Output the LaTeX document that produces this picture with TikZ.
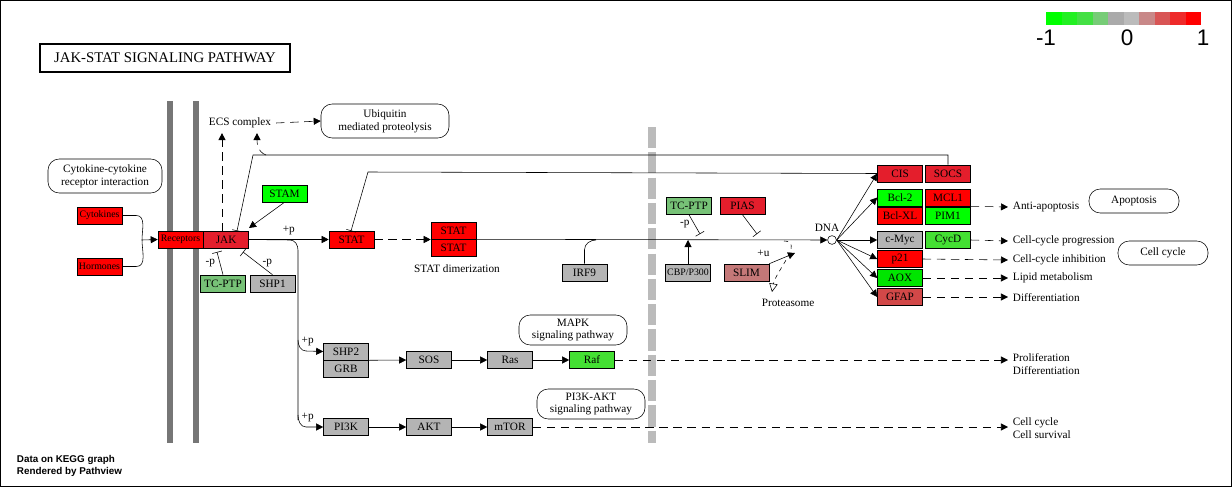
\documentclass[tikz,border=0pt]{standalone}
\usepackage{fontspec}
\setmainfont{Liberation Serif}
\newfontfamily\sansb{Liberation Sans}
\usetikzlibrary{arrows.meta,positioning,calc}
\definecolor{kred}{HTML}{FF0000}
\definecolor{kredb}{HTML}{E41E2C}
\definecolor{kgreen}{HTML}{00FF00}
\definecolor{kgreenb}{HTML}{44E033}
\definecolor{kpale}{HTML}{77C277}
\definecolor{kgray}{HTML}{B4B4B4}
\definecolor{kslim}{HTML}{C47878}
\definecolor{kgfap}{HTML}{D24848}
\definecolor{kbar}{HTML}{767676}
\begin{document}
\begin{tikzpicture}[x=0.025cm,y=-0.025cm,
     font=\fontsize{8}{9}\selectfont,
     gene/.style={rectangle,draw,inner sep=0pt,minimum width=1.125cm,minimum height=0.425cm},
     tight/.style={font=\fontsize{7}{8}\selectfont},
     path/.style={rectangle,draw,rounded corners=8pt,align=center,inner sep=2pt},
     act/.style={-{Triangle[length=5pt,width=5pt]}},
     inh/.style={-{Bar[width=7pt]}},
     ind/.style={dashed,dash pattern=on 6pt off 4pt,-{Triangle[length=5pt,width=5pt]}}]

  \useasboundingbox (0,0) rectangle (1232,487);
  \draw (0.5,0.5) rectangle (1231.5,486.5);

  % membranes
  \fill[kbar] (167,101) rectangle (173,443);
  \fill[kbar] (193,101) rectangle (199,443);
  \draw[kgray!90,line width=6pt,dash pattern=on 15pt off 3pt] (652,127) -- (652,443);

  % legend
  \foreach \c [count=\i] in {00FF00,22F022,44E044,77CC77,AAAAAA,BBBBBB,C88888,D85555,EE2A2A,FF0000}{
    \definecolor{lgd}{HTML}{\c}
    \fill[lgd] ({1046+(\i-1)*15.5},12) rectangle ({1046+\i*15.5},25);}
  \node[font=\sansb\fontsize{16}{18}\selectfont] (lminus) at (1046,38) {-1};
  \node[font=\sansb\fontsize{16}{18}\selectfont] (lzero) at (1127,38) {0};
  \node[font=\sansb\fontsize{16}{18}\selectfont] (lone) at (1203,38) {1};

  \node[draw,thick,inner sep=0pt,minimum width=6.25cm,minimum height=0.7cm,font=\fontsize{10.5}{12}\selectfont] (title) at (165,58) {JAK-STAT SIGNALING PATHWAY};
  \node[font=\sansb\bfseries\fontsize{7}{8.5}\selectfont,align=left,anchor=north west] (credit) at (12,450) {Data on KEGG graph\\Rendered by Pathview};

  % genes
  \node[gene,tight,fill=kred] (cytokines) at (99.5,215.5) {Cytokines};
  \node[gene,tight,fill=kred] (hormones) at (99.5,266.5) {Hormones};
  \node[gene,tight,fill=kred] (receptors) at (180.5,239.5) {Receptors};
  \node[gene,fill=kredb] (jak) [right=0pt of receptors] {JAK};
  \node[gene,fill=kgreen] (stam) at (284.5,193.5) {STAM};
  \node[gene,fill=kpale] (tcptpa) at (223,283.5) {TC-PTP};
  \node[gene,fill=kgray] (shp1) at (272.5,283.5) {SHP1};
  \node[gene,fill=kred] (stat) at (351.5,239.5) {STAT};
  \node[gene,fill=kred] (stata) at (453.5,230.5) {STAT};
  \node[gene,fill=kred] (statb) [below=0pt of stata] {STAT};
  \node (dimer) at (457,269) {STAT dimerization};
  \node[gene,fill=kgray] (irf9) at (584.5,272.5) {IRF9};
  \node[gene,fill=kpale] (tcptpb) at (689,206) {TC-PTP};
  \node[gene,fill=kredb] (pias) at (742.5,206) {PIAS};
  \node[gene,tight,fill=kgray] (cbp) at (688,272.5) {CBP/P300};
  \node[gene,fill=kslim] (slim) at (746.5,272.5) {SLIM};
  \node (proteasome) at (788,303) {Proteasome};
  \node[circle,draw,inner sep=0pt,minimum size=0.22cm] (dna) at (832,240) {};
  \node (dnal) at (827,228) {DNA};

  \node[gene,fill=kredb] (cis) at (900,173.5) {CIS};
  \node[gene,fill=kredb] (socs) at (948,173.5) {SOCS};
  \node[gene,fill=kgreen] (bcl2) at (900,197.5) {Bcl-2};
  \node[gene,fill=kred] (mcl1) at (948,197.5) {MCL1};
  \node[gene,fill=kred] (bclxl) at (900,215.5) {Bcl-XL};
  \node[gene,fill=kgreen] (pim1) at (948,215.5) {PIM1};
  \node[gene,fill=kgray] (cmyc) at (900,240) {c-Myc};
  \node[gene,fill=kgreenb] (cycd) at (948,240) {CycD};
  \node[gene,fill=kred] (p21) at (900,259) {p21};
  \node[gene,fill=kgreen!90!black] (aox) at (900,278) {AOX};
  \node[gene,fill=kgfap] (gfap) at (900,297) {GFAP};

  \node[gene,fill=kgray] (shp2) at (346,351.5) {SHP2};
  \node[gene,fill=kgray] (grb) [below=0pt of shp2] {GRB};
  \node[gene,fill=kgray] (sos) at (429,360) {SOS};
  \node[gene,fill=kgray] (ras) at (510,360) {Ras};
  \node[gene,fill=kgreenb] (raf) at (592,360) {Raf};
  \node[gene,fill=kgray] (pi3k) at (346,427) {PI3K};
  \node[gene,fill=kgray] (akt) at (429,427) {AKT};
  \node[gene,fill=kgray] (mtor) at (510,427) {mTOR};

  % maps and outputs
  \node[path,minimum width=2.85cm,minimum height=0.85cm] (cytmap) at (105,176) {Cytokine-cytokine\\receptor interaction};
  \node[path,minimum width=3.2cm,minimum height=0.85cm] (ubimap) at (385,121) {Ubiquitin\\mediated proteolysis};
  \node[path,minimum width=2.7cm,minimum height=0.75cm] (mapkmap) at (573,330) {MAPK\\signaling pathway};
  \node[path,minimum width=2.7cm,minimum height=0.75cm] (pi3kmap) at (591,404) {PI3K-AKT\\signaling pathway};
  \node[path,minimum width=2.25cm,minimum height=0.6cm] (apomap) at (1134,201) {Apoptosis};
  \node[path,minimum width=2.25cm,minimum height=0.6cm] (ccmap) at (1163,253) {Cell cycle};
  \node (ecs) at (240,123) {ECS complex};
  \node[anchor=west] (antiapo) at (1008,207) {Anti-apoptosis};
  \node[anchor=west] (ccprog) at (1008,241) {Cell-cycle progression};
  \node[anchor=west] (ccinh) at (1008,260) {Cell-cycle inhibition};
  \node[anchor=west] (lipid) at (1008,278) {Lipid metabolism};
  \node[anchor=west] (diff) at (1008,298) {Differentiation};
  \node[anchor=west,align=left] (prolif) at (1008,364) {Proliferation\\Differentiation};
  \node[anchor=west,align=left] (survival) at (1008,428) {Cell cycle\\Cell survival};

  % edges
  \coordinate (join) at (142,240);
  \draw (cytokines.east) -- ++(14,0) to[out=0,in=90] (join);
  \draw (hormones.east) -- ++(14,0) to[out=0,in=-90] (join);
  \draw[act] (join) -- (receptors.west);
  \draw[act] (jak.east) -- node[above,pos=0.5] {+p} (stat.west);
  \draw[ind] (222,231) -- (ecs.south -| 222,0);
  \draw[ind] (ecs.east) -- (ubimap.west);
  \draw[inh] (socs.north) |- (253,155) -- (237,231);
  \draw[ind] (266,155) to[out=160,in=-90] (ecs.south -| 257,0);
  \draw[inh] (cis.west) -- (368,172) -- (351,231);
  \draw[act] (stam.south) -- (249,228);
  \draw[inh] (tcptpa.north) -- node[left] {-p} (217,252);
  \draw[inh] (shp1.north) -- node[right] {-p} (243,252);
  \draw (jak.east) -- (290,240) to[out=0,in=90] (298,250) -- (298,420);
  \draw[act] (298,340) to[out=-90,in=180] (306,351) -- node[above,pos=0.1] {+p} (shp2.west);
  \draw[act] (298,415) to[out=-90,in=180] (306,427) -- node[above,pos=0.1] {+p} (pi3k.west);
  \draw[ind] (stat.east) -- (stata.west |- stat);
  \draw[act] (statb.north east) -- (dna.west);
  \draw (irf9.north) |- ++(0,-14) to[out=90,in=180] (596,240);
  \draw[inh] (tcptpb.south) -- node[left] {-p} (700,234);
  \draw[inh] (pias.south) -- (757,234);
  \draw[act] (cbp.north) -- (688,240);
  \draw[act] (slim.north east) -- node[above left,pos=0.2] {+u} (795,253);
  \draw[dashed,-{Triangle[open,length=6pt,width=6pt]}] (784,241) to[out=0,in=80] (772,292);
  \foreach \t in {cis,bcl2,cmyc,p21,aox,gfap}
    \draw[act] (dna.east) -- (\t.west);
  \draw[ind] (mcl1.south east) -- (antiapo.west);
  \draw[ind] (cycd.east) -- (ccprog.west);
  \draw[ind] (p21.east) -- (ccinh.west);
  \draw[ind] (aox.east) -- (lipid.west);
  \draw[ind] (gfap.east) -- (diff.west |- gfap);
  \draw[act] (grb.north east) -- (sos.west);
  \draw[act] (sos.east) -- (ras.west);
  \draw[act] (ras.east) -- (raf.west);
  \draw[ind] (raf.east) -- (prolif.west |- raf);
  \draw[act] (pi3k.east) -- (akt.west);
  \draw[act] (akt.east) -- (mtor.west);
  \draw[ind] (mtor.east) -- (survival.west |- mtor);
\end{tikzpicture}
\end{document}
